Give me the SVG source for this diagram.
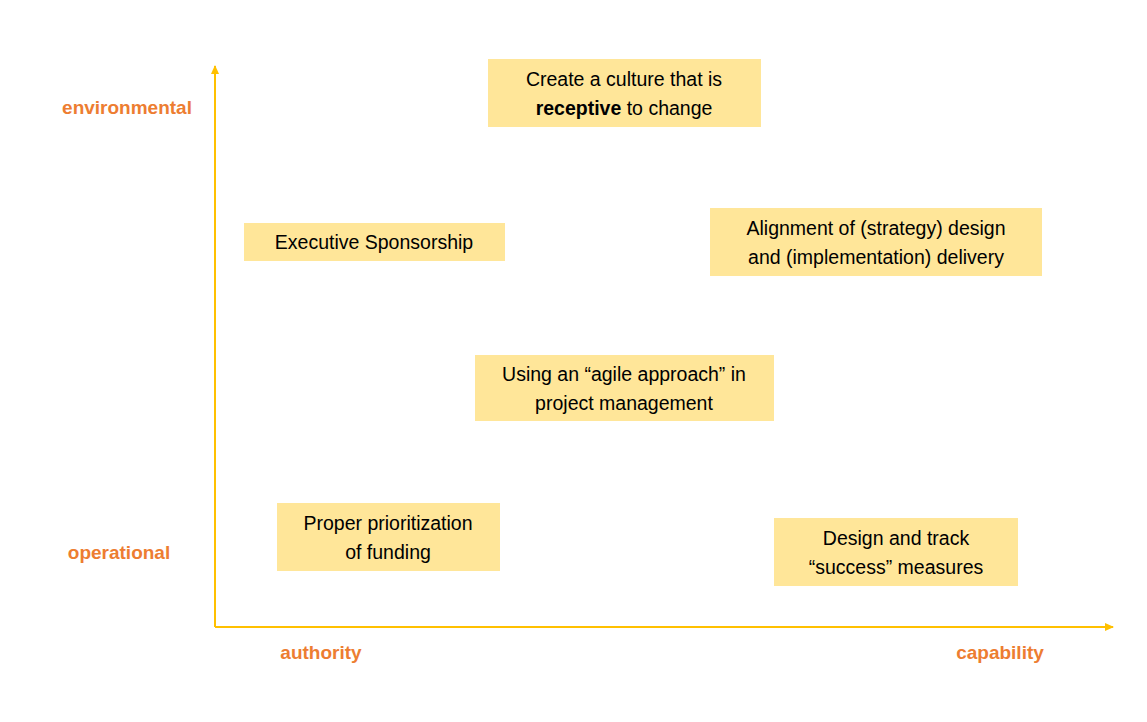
<svg xmlns="http://www.w3.org/2000/svg" width="1147" height="722" viewBox="0 0 1147 722">
<style>
.box{fill:#FFE699}
.t{font-family:"Liberation Sans",Arial,sans-serif;font-size:19.5px;fill:#000;text-anchor:middle;dominant-baseline:central}
.ax{font-family:"Liberation Sans",Arial,sans-serif;font-size:19px;font-weight:bold;fill:#ED7D31;text-anchor:middle;dominant-baseline:central}
.axis{stroke:#FFC000;stroke-width:2;fill:none}
</style>
<defs><marker id="ar" markerWidth="10" markerHeight="10" refX="8" refY="5" orient="auto" markerUnits="userSpaceOnUse"><path d="M0,1 L9,5 L0,9 z" fill="#FFC000"/></marker></defs>
<rect width="1147" height="722" fill="#fff"/>
<g id="connectors">
<line class="axis" x1="215" y1="627" x2="215" y2="66" marker-end="url(#ar)"/>
<line class="axis" x1="215" y1="627" x2="1113" y2="627" marker-end="url(#ar)"/>
</g>
<g id="n1"><rect class="box" x="488" y="59" width="273" height="68"/><text class="t" x="624" y="79">Create a culture that is</text><text class="t" x="624" y="108"><tspan font-weight="bold">receptive</tspan> to change</text></g>
<g id="n2"><rect class="box" x="244" y="223" width="261" height="38"/><text class="t" x="374" y="242">Executive Sponsorship</text></g>
<g id="n3"><rect class="box" x="710" y="208" width="332" height="68"/><text class="t" x="876" y="228">Alignment of (strategy) design</text><text class="t" x="876" y="257">and (implementation) delivery</text></g>
<g id="n4"><rect class="box" x="475" y="355" width="299" height="66"/><text class="t" x="624" y="374">Using an “agile approach” in</text><text class="t" x="624" y="403">project management</text></g>
<g id="n5"><rect class="box" x="277" y="503" width="223" height="68"/><text class="t" x="388" y="523">Proper prioritization</text><text class="t" x="388" y="552">of funding</text></g>
<g id="n6"><rect class="box" x="774" y="518" width="244" height="68"/><text class="t" x="896" y="538">Design and track</text><text class="t" x="896" y="567">“success” measures</text></g>
<g id="labels">
<text class="ax" x="127" y="107">environmental</text>
<text class="ax" x="119" y="552">operational</text>
<text class="ax" x="321" y="652">authority</text>
<text class="ax" x="1000" y="652">capability</text>
</g>
</svg>
